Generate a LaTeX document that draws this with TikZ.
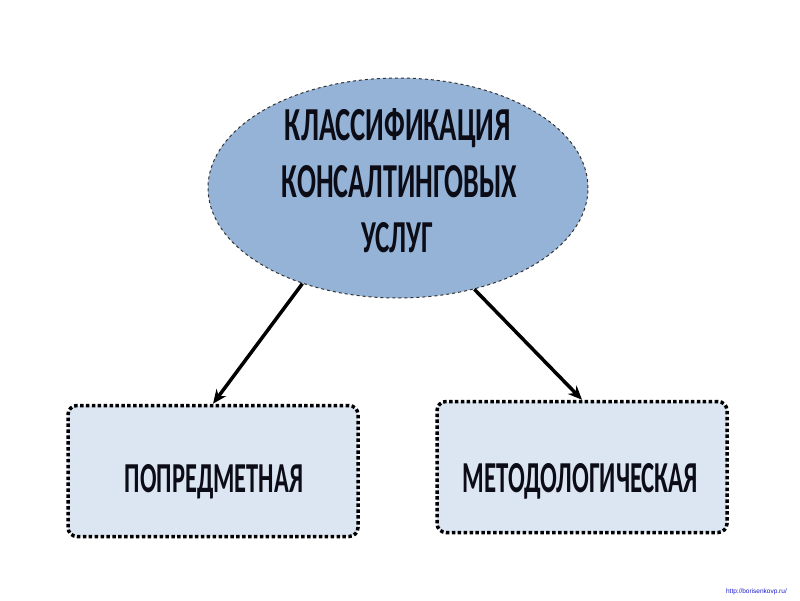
\documentclass[tikz,border=0pt]{standalone}
\usepackage{fontspec}
\setmainfont{Carlito}
\newfontfamily\urlfont{Liberation Sans}
\usetikzlibrary{arrows.meta}
\usetikzlibrary{shapes.geometric}

\definecolor{ovalblue}{HTML}{95B3D7}
\definecolor{boxblue}{HTML}{DCE6F2}
\definecolor{inkdark}{HTML}{0C0C16}
\definecolor{linkblue}{HTML}{1A1ACC}

\tikzset{
  oval/.style={ellipse, draw=black!80, dashed, line width=1pt, fill=ovalblue,
    minimum width=380pt, minimum height=220pt, inner sep=0pt},
  catbox/.style={rectangle, rounded corners=9pt, draw=black, line width=3.5pt,
    dash pattern=on 3.5pt off 2.4pt, fill=boxblue,
    minimum width=290pt, minimum height=131pt, inner sep=0pt},
  caption/.style={anchor=base, inner sep=0pt, text=inkdark},
  link/.style={line width=3.5pt, -{Stealth[length=14pt,width=12pt]}}
}

\begin{document}
\begin{tikzpicture}[x=1pt,y=-1pt]
        \newcommand{\fitline}[3]{\resizebox{#1pt}{#2pt}{\bfseries #3}}
        \useasboundingbox (0,0) rectangle (800,600);

        \node[oval] (cls) at (398,188) {}; %top
        \node[catbox] (pop) at (213,471) {}; %left
        \node[catbox] (met) at (582,467) {}; %right

        \node[caption] (cls1) at (398,140) {\fitline{226}{32}{КЛАССИФИКАЦИЯ}};
        \node[caption] (cls2) at (399.5,197) {\fitline{235}{32}{КОНСАЛТИНГОВЫХ}};
        \node[caption] (cls3) at (397.5,252) {\fitline{72}{30}{УСЛУГ}};

        \node[caption] (popt) at (214,492) {\fitline{178}{28}{ПОПРЕДМЕТНАЯ}};
        \node[caption] (mett) at (580.5,492) {\fitline{235}{29}{МЕТОДОЛОГИЧЕСКАЯ}};

        \draw[link] (cls.225) -- (pop.north);
        \draw[link] (cls.307) -- (met.north);

        \node[anchor=base east, inner sep=0pt, text=linkblue] (url) at (787,593)
            {\urlfont\fontsize{6.5}{7}\selectfont http://borisenkovp.ru/};
    \end{tikzpicture}
\end{document}
